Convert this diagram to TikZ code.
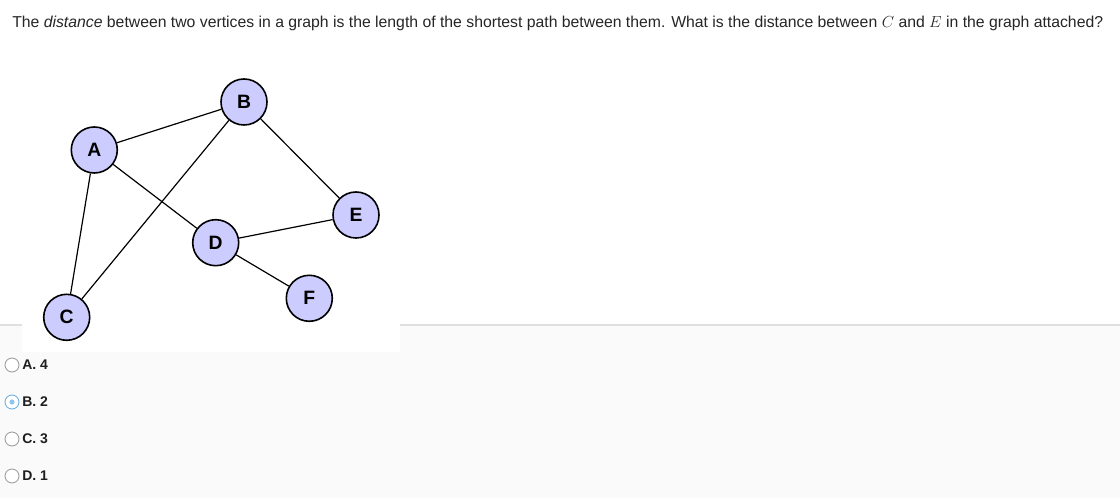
\documentclass[tikz,border=0pt]{standalone}
\usepackage{fontspec}
\setmainfont{Liberation Sans}
\begin{document}
\begin{tikzpicture}[x=0.75pt,y=-0.75pt,
  vtx/.style={circle,draw=black,line width=1.2pt,fill=vfill,minimum size=34.5pt,inner sep=0pt,font=\fontsize{14.5}{16}\selectfont\bfseries},
  edge/.style={line width=0.9pt,black},
  radio/.style={circle,draw=radiogray,line width=0.6pt,fill=white,minimum size=10.5pt,inner sep=0pt},
  opt/.style={anchor=west,inner sep=0pt,font=\fontsize{10.5}{12}\selectfont\bfseries,text=optcol}]
\definecolor{vfill}{RGB}{204,204,255}
\definecolor{bggray}{RGB}{250,250,250}
\definecolor{linegray}{RGB}{224,224,224}
\definecolor{radiogray}{RGB}{150,150,150}
\definecolor{radioblue}{RGB}{96,170,225}
\definecolor{optcol}{RGB}{30,30,30}
\useasboundingbox (0,0) rectangle (1120,498);
\fill[white] (0,0) rectangle (1120,498);
\fill[bggray] (0,325) rectangle (1120,498);
\fill[linegray] (0,324.5) rectangle (1120,326.5);
\fill[white] (22,80) rectangle (400,352.5);
% title
\node[anchor=west,inner sep=0pt,font=\fontsize{11.83}{14}\selectfont,text=black!85] (title) at (12,23)
 {The \textit{distance} between two vertices in a graph is the length of the shortest path between them. What is the distance between $C$ and $E$ in the graph attached?};
% vertices
\node[vtx] (B) at (244,102) {B};
\node[vtx] (A) at (94.3,150) {A};
\node[vtx] (E) at (356,215) {E};
\node[vtx] (D) at (215.7,242.7) {D};
\node[vtx] (F) at (309.3,298.3) {F};
\node[vtx] (C) at (66.7,317.3) {C};
\draw[edge] (A) -- (B);
\draw[edge] (A) -- (D);
\draw[edge] (A) -- (C);
\draw[edge] (B) -- (C);
\draw[edge] (B) -- (E);
\draw[edge] (D) -- (E);
\draw[edge] (D) -- (F);
% options
\node[radio] (r1) at (12,365) {};
\node[opt] (o1) at (22,365) {A. 4};
\node[radio,draw=radioblue] (r2) at (12,402) {};
\fill[radioblue!70] (r2.center) circle (2.6);
\node[opt] (o2) at (22,402) {B. 2};
\node[radio] (r3) at (12,439) {};
\node[opt] (o3) at (22,439) {C. 3};
\node[radio] (r4) at (12,476) {};
\node[opt] (o4) at (22,476) {D. 1};
\end{tikzpicture}
\end{document}
